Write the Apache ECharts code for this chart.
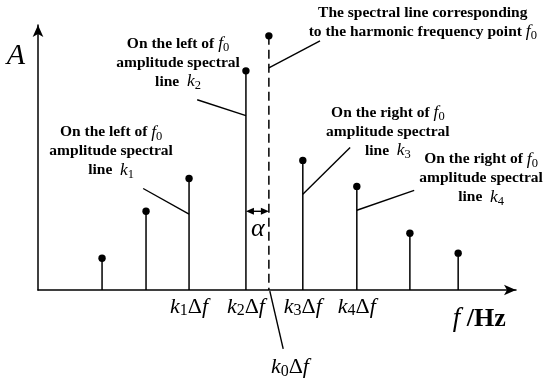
<!DOCTYPE html>
<html><head><meta charset="utf-8">
<script src="https://cdn.jsdelivr.net/npm/echarts@6/dist/echarts.min.js"></script>
<style>html,body{margin:0;padding:0;background:#fff}#c{width:550px;height:381px}</style>
</head><body><div id="c"></div>
<script>
// spectral lines (arbitrary frequency units, amplitude units)
const stemX = [13.4, 22.6, 31.6, 43.5, 55.4, 66.7, 77.8, 87.9];
const stemA = [12.0, 29.7, 42.1, 82.7, 48.9, 39.1, 21.4, 13.9];
// harmonic frequency point f0 (dashed)
const f0X = [48.3];
const f0A = [95.9];
// tick positions and labels
const tickValues = [31.6, 43.5, 55.4, 66.7];
const tickSubs = ['1', '2', '3', '4'];
// annotation texts
const noteText = [
  'On the left of {i|f}{s|0}\namplitude spectral\nline  {i|k}{s|1}',
  'On the left of {i|f}{s|0}\namplitude spectral\nline  {i|k}{s|2}',
  'The spectral line corresponding\nto the harmonic frequency point {i|f}{s|0}',
  'On the right of {i|f}{s|0}\namplitude spectral\nline  {i|k}{s|3}',
  'On the right of {i|f}{s|0}\namplitude spectral\nline  {i|k}{s|4}'
];
const noteX = [15.3, 29.3, 80.5, 73.2, 92.7];
const noteY = [52.3, 85.7, 101.1, 59.8, 42.1];
// leader lines [x1, y1, x2, y2]
const leaders = [
  [22.0, 38.3, 31.6, 28.6],
  [33.3, 71.8, 43.5, 65.8],
  [59.0, 94.0, 48.3, 83.8],
  [65.3, 53.8, 55.4, 36.1],
  [78.7, 37.6, 66.7, 30.1],
  [48.5, -0.4, 51.3, -22.2]
];
// alpha interval [xLeft, xRight, y]
const alphaSpan = [[43.5, 48.3, 29.7]];
// other symbols
const symText = ['{ai|A}', '{al|α}', '{mi|k}{ms|0}{mu|Δ}{mi|f}', '{bi|f}{bb| /Hz}'];
const symX = [-4.6, 46.0, 52.7, 92.3];
const symY = [88.3, 22.9, -29.3, -10.9];

const SERIF = '"Liberation Serif","Times New Roman",serif';
const noteRich = {
  i: {fontFamily: SERIF, fontStyle: 'italic', fontWeight: 'normal', fontSize: 17.5, lineHeight: 19, color: '#000'},
  s: {fontFamily: SERIF, fontWeight: 'normal', fontSize: 12.5, padding: [8, 0, 0, 0], lineHeight: 19, color: '#000'}
};
const mathRich = {
  mi: {fontFamily: SERIF, fontStyle: 'italic', fontSize: 22, color: '#000'},
  ms: {fontFamily: SERIF, fontSize: 16, padding: [8, 0, 0, 0], color: '#000'},
  mu: {fontFamily: SERIF, fontSize: 22, color: '#000'},
  ai: {fontFamily: SERIF, fontStyle: 'italic', fontSize: 30, color: '#000'},
  al: {fontFamily: SERIF, fontStyle: 'italic', fontSize: 26, color: '#000'},
  bi: {fontFamily: SERIF, fontStyle: 'italic', fontSize: 27, color: '#000'},
  bb: {fontFamily: SERIF, fontWeight: 'bold', fontSize: 26, color: '#000'}
};

const chart = echarts.init(document.getElementById('c'), null, {renderer: 'canvas'});
chart.setOption({
  animation: false,
  backgroundColor: '#fff',
  grid: {left: 38, right: 34, top: 25, bottom: 91, outerBoundsMode: 'none'},
  xAxis: {
    type: 'value', min: 0, max: 100,
    axisLine: {show: true, lineStyle: {color: '#000', width: 1.5}, symbol: ['none', 'arrow'], symbolSize: [8, 12]},
    axisTick: {show: false},
    splitLine: {show: false},
    axisLabel: {
      customValues: tickValues,
      margin: 5,
      formatter: function (v) {
        let idx = 0, best = Infinity;
        tickValues.forEach(function (t, i) { if (Math.abs(t - v) < best) { best = Math.abs(t - v); idx = i; } });
        return '{mi|k}{ms|' + tickSubs[idx] + '}{mu|Δ}{mi|f}';
      },
      rich: mathRich
    }
  },
  yAxis: {
    type: 'value', min: 0, max: 100,
    axisLine: {show: true, lineStyle: {color: '#000', width: 1.5}, symbol: ['none', 'arrow'], symbolSize: [8, 12]},
    axisTick: {show: false},
    splitLine: {show: false},
    axisLabel: {show: false}
  },
  series: [
    {
      type: 'custom', name: 'lines', clip: false,
      data: stemX.map(function (x, i) { return [x, stemA[i]]; }),
      renderItem: function (params, api) {
        const top = api.coord([api.value(0), api.value(1)]);
        const base = api.coord([api.value(0), 0]);
        return {type: 'group', children: [
          {type: 'line', shape: {x1: base[0], y1: base[1], x2: top[0], y2: top[1]}, style: {stroke: '#000', lineWidth: 1.5}},
          {type: 'circle', shape: {cx: top[0], cy: top[1], r: 3.7}, style: {fill: '#000'}}
        ]};
      }
    },
    {
      type: 'custom', name: 'f0', clip: false,
      data: f0X.map(function (x, i) { return [x, f0A[i]]; }),
      renderItem: function (params, api) {
        const top = api.coord([api.value(0), api.value(1)]);
        const base = api.coord([api.value(0), 0]);
        return {type: 'group', children: [
          {type: 'line', shape: {x1: top[0], y1: top[1], x2: base[0], y2: base[1]}, style: {stroke: '#000', lineWidth: 1.5, lineDash: [9, 5]}},
          {type: 'circle', shape: {cx: top[0], cy: top[1], r: 3.7}, style: {fill: '#000'}}
        ]};
      }
    },
    {
      type: 'custom', name: 'leaders', clip: false,
      data: leaders,
      renderItem: function (params, api) {
        const a = api.coord([api.value(0), api.value(1)]);
        const b = api.coord([api.value(2), api.value(3)]);
        return {type: 'line', shape: {x1: a[0], y1: a[1], x2: b[0], y2: b[1]}, style: {stroke: '#000', lineWidth: 1.4}};
      }
    },
    {
      type: 'custom', name: 'alpha', clip: false,
      data: alphaSpan,
      renderItem: function (params, api) {
        const l = api.coord([api.value(0), api.value(2)]);
        const r = api.coord([api.value(1), api.value(2)]);
        const y = l[1];
        return {type: 'group', children: [
          {type: 'line', shape: {x1: l[0] + 4, y1: y, x2: r[0] - 4, y2: y}, style: {stroke: '#000', lineWidth: 1.4}},
          {type: 'polygon', shape: {points: [[l[0], y], [l[0] + 8, y - 3.5], [l[0] + 8, y + 3.5]]}, style: {fill: '#000'}},
          {type: 'polygon', shape: {points: [[r[0], y], [r[0] - 8, y - 3.5], [r[0] - 8, y + 3.5]]}, style: {fill: '#000'}}
        ]};
      }
    },
    {
      type: 'custom', name: 'notes', clip: false,
      data: noteX.map(function (x, i) { return [x, noteY[i], i]; }),
      renderItem: function (params, api) {
        const p = api.coord([api.value(0), api.value(1)]);
        return {type: 'text', style: {
          text: noteText[api.value(2)], x: p[0], y: p[1], align: 'center', verticalAlign: 'middle',
          font: 'bold 15.5px ' + SERIF, fill: '#000', lineHeight: 19, rich: noteRich
        }};
      }
    },
    {
      type: 'custom', name: 'symbols', clip: false,
      data: symX.map(function (x, i) { return [x, symY[i], i]; }),
      renderItem: function (params, api) {
        const p = api.coord([api.value(0), api.value(1)]);
        return {type: 'text', style: {
          text: symText[api.value(2)], x: p[0], y: p[1], align: 'center', verticalAlign: 'middle',
          font: '20px ' + SERIF, fill: '#000', rich: mathRich
        }};
      }
    }
  ]
});
</script>
</body></html>
